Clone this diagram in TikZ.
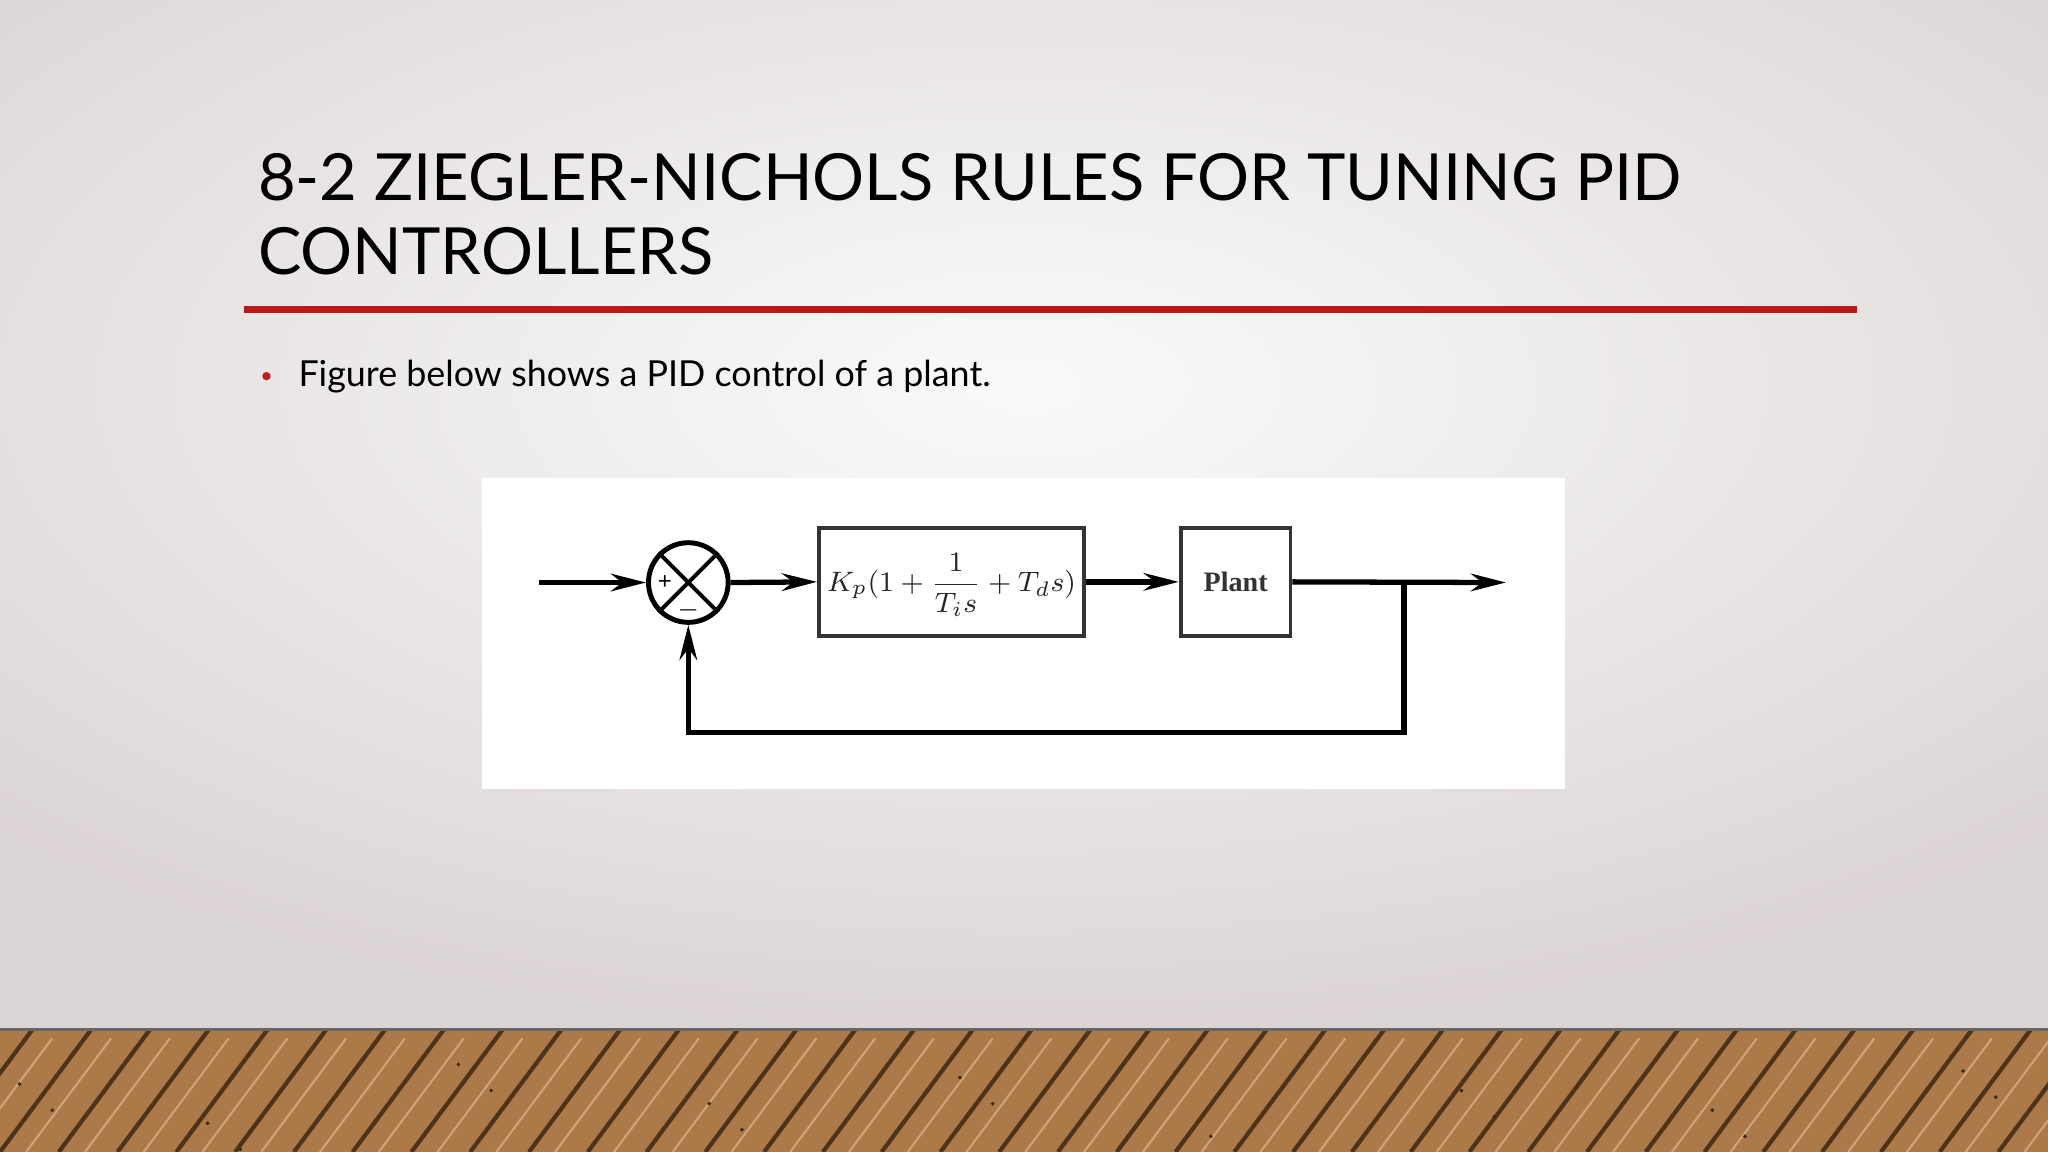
\documentclass[tikz,border=0pt]{standalone}
\usepackage{fontspec}
\newfontfamily\gill{Lato}
\newfontfamily\tms{Liberation Serif}
\usetikzlibrary{arrows.meta,shadings}
\begin{document}
\begin{tikzpicture}[x=0.01306cm,y=-0.01306cm,
  blk/.style={draw=black!80,line width=1.1pt,minimum width=#1,inner sep=0pt},
  sig/.style={line width=1.5pt,-{Stealth[length=10pt,width=5pt]}},
  ln/.style={line width=1.5pt}]
\useasboundingbox (0,0) rectangle (1568,882);
\shade[inner color=white!96!gray, outer color=black!14!white!97!red] (-300,-200) rectangle (1868,790);
% floor
\fill[brown!60!orange!70!black!80] (0,788) rectangle (1568,882);
\foreach \i in {-4,...,40}{
  \draw[brown!40!black,line width=1.2pt] (\i*45,882) -- (\i*45+70,788);
  \draw[brown!60!orange!40,line width=0.6pt,opacity=.5] (\i*45+20,882) -- (\i*45+85,795);
}
\foreach \i/\j in {0/830,3/860,7/815,11/845,15/825,19/870,23/835,27/850,31/820}{
  \fill[brown!30!black] (\i*48+15,\j) circle (1.5);
  \fill[brown!30!black] (\i*48+40,\j+20) circle (1.5);
}
\draw[black!60,line width=0.8pt] (0,788) -- (1568,788);
% title
\node[anchor=west,font=\gill\fontsize{18.5}{22}\selectfont,inner sep=0pt] (t1) at (197,136) {8-2 ZIEGLER-NICHOLS RULES FOR TUNING PID};
\node[anchor=west,font=\gill\fontsize{18.5}{22}\selectfont,inner sep=0pt] (t2) at (197,192) {CONTROLLERS};
\draw[red!70!black!90!white,line width=2.2pt] (187,237) -- (1422,237);
\fill[red!75!black!90!white] (204,288) circle (3.2);
\node[anchor=west,font=\gill\fontsize{10.2}{12}\selectfont,inner sep=0pt] (b1) at (228,288) {Figure below shows a PID control of a plant.};
% diagram
\fill[white] (369,366) rectangle (1198,604);
\coordinate (in) at (413,446);
\node[circle,draw=black,line width=1.4pt,minimum size=61pt*0.3716,inner sep=0pt] (sum) at (527,446) {};
\draw[line width=1.1pt] (sum.north west) -- (sum.south east) (sum.north east) -- (sum.south west);
\node[font=\tms\bfseries\fontsize{7}{7}\selectfont] at (509,446) {+};
\node[font=\tms\bfseries\fontsize{7}{7}\selectfont] at (527,467) {$-$};
\node[blk=203*0.3716pt,minimum height=83*0.3716pt] (pid) at (728.5,445.5) {};
\node[font=\tms\bfseries\fontsize{8}{8}\selectfont,text=black!85] at (728.5,448) {$\displaystyle K_p(1+\frac{1}{T_i s}+T_d s)$};
\node[blk=84*0.3716pt,minimum height=83*0.3716pt,font=\tms\bfseries\fontsize{8}{8}\selectfont,text=black!80] (plant) at (946,445.5) {Plant};
\coordinate (out) at (1153,446);
\coordinate (br) at (1075,446);
\draw[sig] (in) -- (sum.west);
\draw[sig] (sum.east) -- (pid.west);
\draw[sig] (pid.east) -- (plant.west);
\draw[sig] (plant.east) -- (out);
\draw[sig] (br) -- (1075,561) -- (527,561) -- (sum.south);
\end{tikzpicture}
\end{document}
